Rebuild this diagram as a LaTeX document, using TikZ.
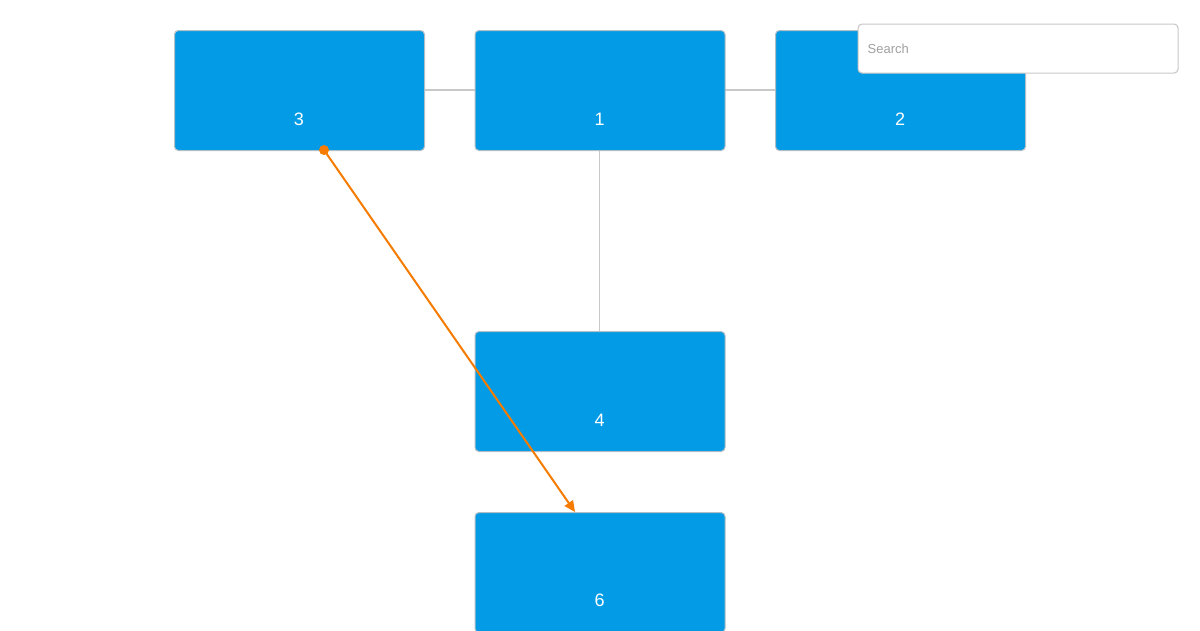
\documentclass[tikz,border=0pt]{standalone}
\usepackage{fontspec}
\setmainfont{Liberation Sans}
\usetikzlibrary{arrows.meta}
\definecolor{boxblue}{HTML}{039BE5}
\definecolor{boxedge}{HTML}{B0BEC5}
\definecolor{linkgray}{HTML}{C8C8C8}
\definecolor{arrorange}{HTML}{F57C00}
\definecolor{searchgray}{HTML}{A0A0A0}
\tikzset{
  card/.style={draw=boxedge, line width=1pt, fill=boxblue, rounded corners=4pt,
    minimum width=250pt, minimum height=120pt, inner sep=0pt, anchor=north west},
  cardlabel/.style={text=white, font=\fontsize{18}{21}\selectfont},
  link/.style={draw=linkgray, line width=1.6pt},
  flow/.style={draw=arrorange, line width=2pt, -{Triangle[length=11pt,width=10pt]}},
  searchbox/.style={draw=linkgray, line width=1.1pt, fill=white, rounded corners=4pt,
    minimum width=320pt, minimum height=49pt, inner sep=0pt, anchor=north west}
}
\begin{document}
\begin{tikzpicture}[x=1pt,y=-1pt]
\useasboundingbox (0,0) rectangle (1200,630);
\clip (0,0) rectangle (1200,630);
\fill[white] (0,0) rectangle (1200,630);
% links (behind cards)
\coordinate (c3) at (299,90);
\coordinate (c1) at (599.5,90);
\coordinate (c2) at (900,90);
\coordinate (c4) at (599.5,391);
\draw[link] (c3) -- (c1);
\draw[link] (c1) -- (c2);
\draw[link] (c1) -- (c4);
% cards
\node[card] (n3) at (174,30) {};
\node[card] (n1) at (474.5,30) {};
\node[card] (n2) at (775,30) {};
\node[card] (n4) at (474.5,331) {};
\node[card] (n6) at (474.5,512) {};
\node[cardlabel] (l3) at (299,119) {3};
\node[cardlabel] (l1) at (599.5,119) {1};
\node[cardlabel] (l2) at (900,119) {2};
\node[cardlabel] (l4) at (599.5,420) {4};
\node[cardlabel] (l6) at (599.5,600) {6};
% orange arrow
\coordinate (s) at (324,150);
\coordinate (t) at (575,512);
\draw[flow] (s) -- (t);
\fill[arrorange] (s) circle (5pt);
% search box
\node[searchbox] (search) at (857.5,23.5) {};
\node[anchor=west, text=searchgray, font=\fontsize{13}{15}\selectfont, inner sep=0pt] (stext) at ([xshift=10pt]search.west) {Search};
\end{tikzpicture}
\end{document}
